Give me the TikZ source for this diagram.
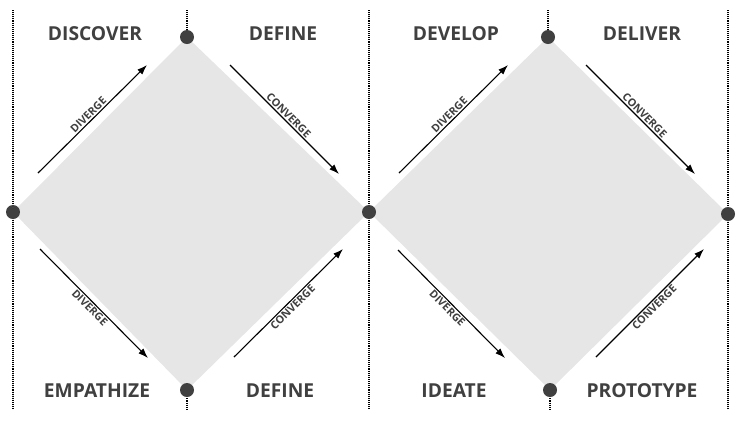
\documentclass[tikz,border=0pt]{standalone}
\usepackage{fontspec}
\setmainfont{Open Sans}
\usepackage{xcolor}
\usetikzlibrary{arrows.meta}

\definecolor{dotgray}{HTML}{404040}
\definecolor{diamondgray}{HTML}{E6E6E6}

\tikzset{
  dot/.style={circle, fill=dotgray, inner sep=0pt, minimum size=14bp},
  guide/.style={densely dotted, line width=1.1bp, black},
  arrowline/.style={-{Latex[length=10bp,width=7bp]}, line width=1.1bp, black},
  phase/.style={text=dotgray, font=\fontsize{19.3}{23}\selectfont\bfseries},
  lbl/.style={text=dotgray, font=\fontsize{10.8}{12}\selectfont\bfseries, inner sep=1.5bp}
}

\begin{document}
\begin{tikzpicture}[x=1bp, y=-1bp]

\useasboundingbox (0,0) rectangle (746,424);

% corner points of the two diamonds
\coordinate (L1) at (13,212);
\coordinate (T1) at (187,37);
\coordinate (M) at (369,212);
\coordinate (B1) at (187,390);
\coordinate (T2) at (548,37);
\coordinate (R2) at (728,214);
\coordinate (B2) at (550,390);

\fill[diamondgray] (L1) -- (T1) -- (M) -- (B1) -- cycle;
\fill[diamondgray] (M) -- (T2) -- (R2) -- (B2) -- cycle;

% free ends of the dotted guides
\coordinate (gt0) at (13,10);  \coordinate (gb0) at (13,410);
\coordinate (gt1) at (187,10); \coordinate (gb1) at (187,410);
\coordinate (gt2) at (369,10); \coordinate (gb2) at (369,410);
\coordinate (gt3) at (548,10); \coordinate (gb3) at (550,410);
\coordinate (gt4) at (728,10); \coordinate (gb4) at (728,410);

\draw[guide] (gt0) -- (L1) -- (gb0);
\draw[guide] (gt1) -- (T1);
\draw[guide] (B1) -- (gb1);
\draw[guide] (gt2) -- (M) -- (gb2);
\draw[guide] (gt3) -- (T2);
\draw[guide] (B2) -- (gb3);
\draw[guide] (gt4) -- (R2) -- (gb4);

\node[dot] (dL1) at (L1) {};
\node[dot] (dT1) at (T1) {};
\node[dot] (dM) at (M) {};
\node[dot] (dB1) at (B1) {};
\node[dot] (dT2) at (T2) {};
\node[dot] (dR2) at (R2) {};
\node[dot] (dB2) at (B2) {};

% arrow ends
\coordinate (a1s) at (38,173);  \coordinate (a1e) at (147,65);
\coordinate (a2s) at (230,65);  \coordinate (a2e) at (339,174);
\coordinate (a3s) at (40,249);  \coordinate (a3e) at (148,358);
\coordinate (a4s) at (234,357); \coordinate (a4e) at (343,249);
\coordinate (a5s) at (399,173); \coordinate (a5e) at (508,65);
\coordinate (a6s) at (586,65);  \coordinate (a6e) at (695,174);
\coordinate (a7s) at (398,250); \coordinate (a7e) at (505,358);
\coordinate (a8s) at (596,357); \coordinate (a8e) at (704,249);

\path[arrowline] (a1s) edge node[lbl, above, sloped] {DIVERGE} (a1e);
\path[arrowline] (a2s) edge node[lbl, above, sloped] {CONVERGE} (a2e);
\path[arrowline] (a3s) edge node[lbl, below, sloped] {DIVERGE} (a3e);
\path[arrowline] (a4s) edge node[lbl, below, sloped] {CONVERGE} (a4e);
\path[arrowline] (a5s) edge node[lbl, above, sloped] {DIVERGE} (a5e);
\path[arrowline] (a6s) edge node[lbl, above, sloped] {CONVERGE} (a6e);
\path[arrowline] (a7s) edge node[lbl, below, sloped] {DIVERGE} (a7e);
\path[arrowline] (a8s) edge node[lbl, below, sloped] {CONVERGE} (a8e);

% phase names
\node[phase] (discover) at (95,34) {DISCOVER};
\node[phase] (define1) at (283,34) {DEFINE};
\node[phase] (develop) at (456,34) {DEVELOP};
\node[phase] (deliver) at (642,34) {DELIVER};
\node[phase] (empathize) at (97,391) {EMPATHIZE};
\node[phase] (define2) at (280,391) {DEFINE};
\node[phase] (ideate) at (454,391) {IDEATE};
\node[phase] (prototype) at (642,391) {PROTOTYPE};

\end{tikzpicture}
\end{document}
